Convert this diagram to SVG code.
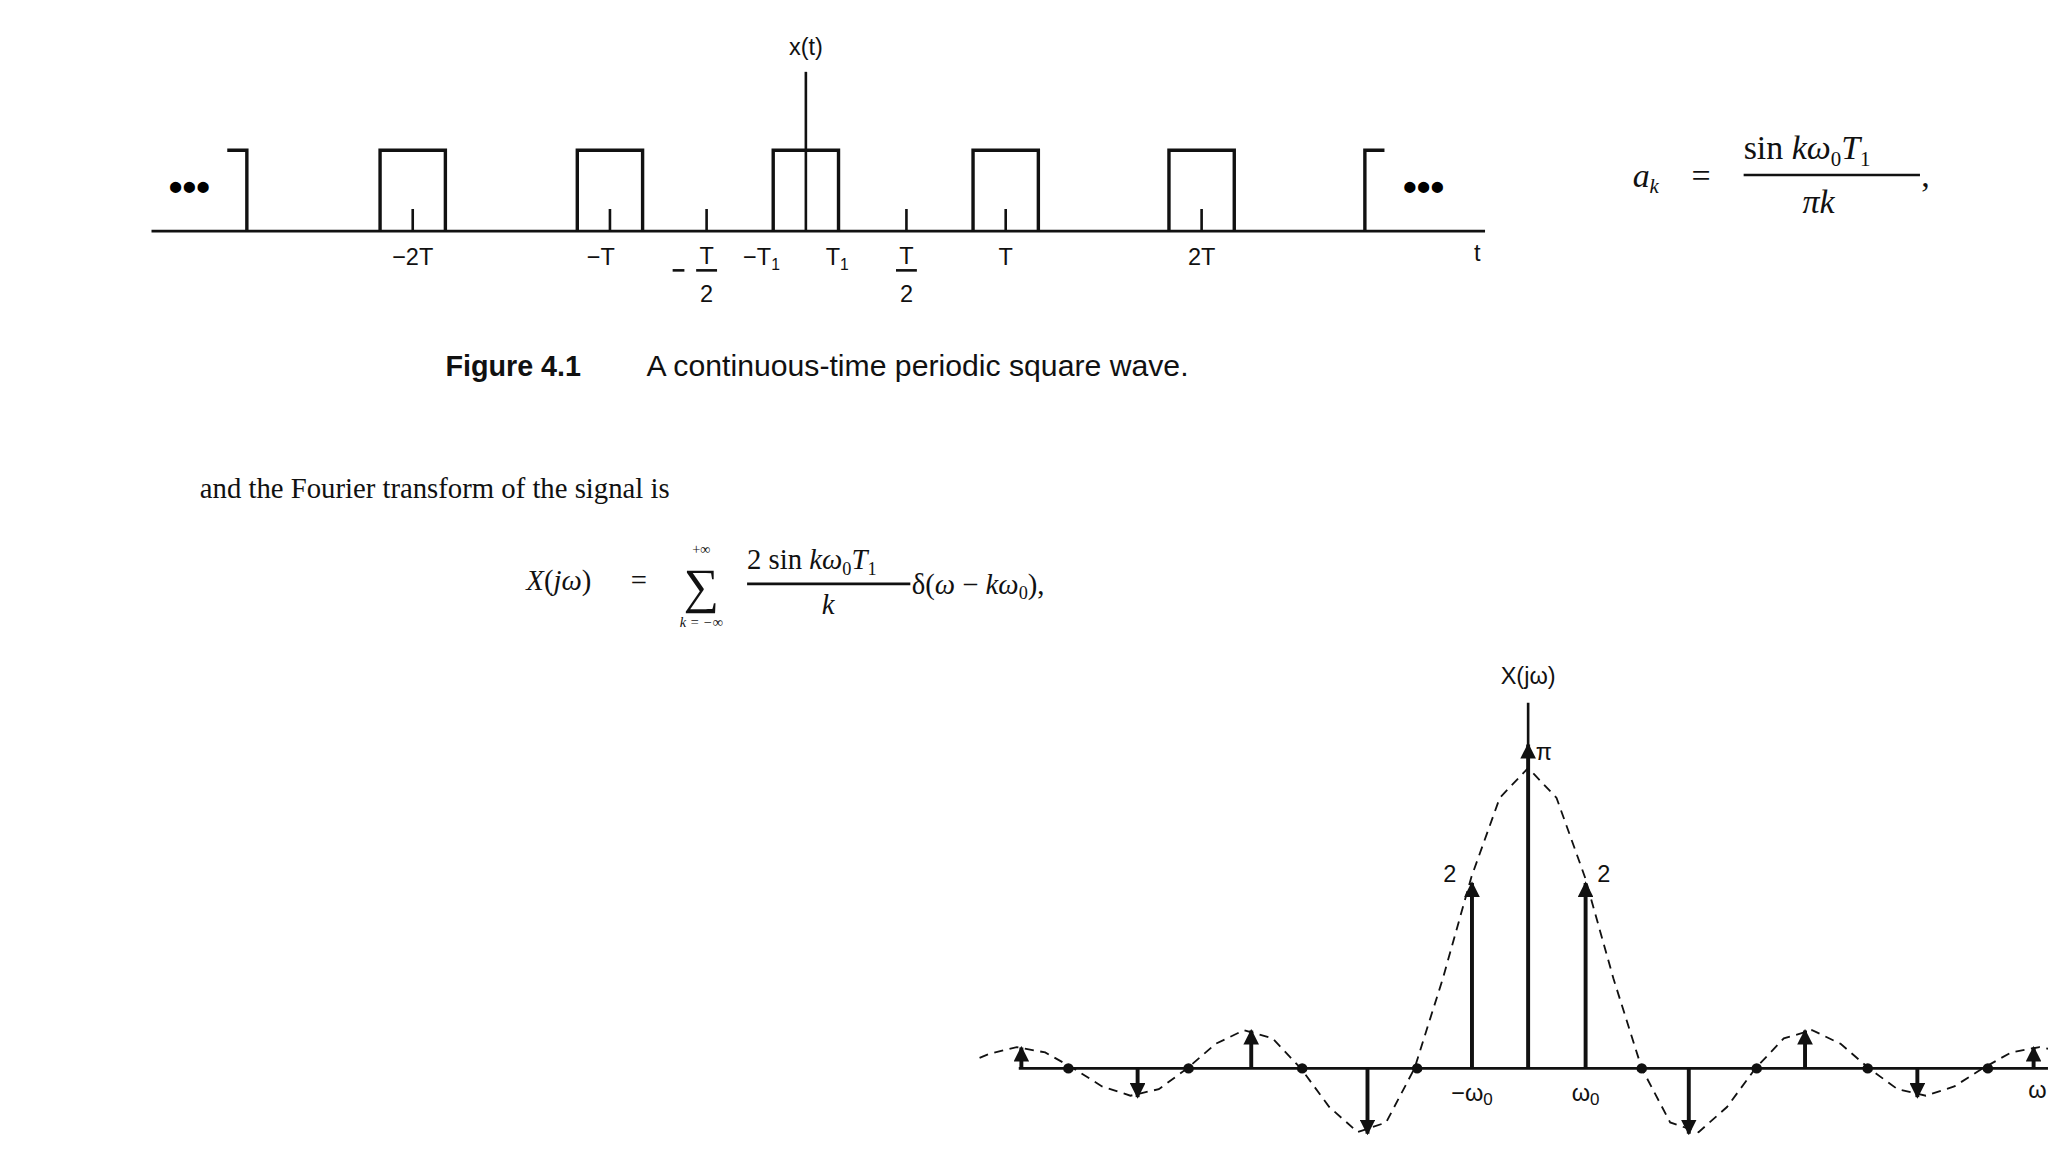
<svg xmlns="http://www.w3.org/2000/svg" width="2048" height="1152" viewBox="0 0 2048 1152">
<defs>
<style>
.ln{stroke:#111;fill:none;stroke-width:2}
.sw{stroke:#111;fill:none;stroke-width:2.6}
.lb{font-family:"Liberation Sans",Arial,sans-serif;font-size:18px;fill:#111;text-anchor:middle}
.sf{font-family:"Liberation Serif","Times New Roman",serif;fill:#111}
.it{font-style:italic}
.stem{stroke:#111;stroke-width:3;fill:none}
.env{stroke:#111;stroke-width:1.4;fill:none;stroke-dasharray:7 5}
</style>
<marker id="ah" viewBox="0 0 10 10" refX="9" refY="5" markerWidth="4" markerHeight="4" orient="auto"><path d="M0,0 L10,5 L0,10 z" fill="#111"/></marker>
</defs>
<rect width="2048" height="1152" fill="#fff"/>
<g transform="scale(1.3061)">
<g id="squarewave">
<line class="ln" x1="116" y1="177" x2="1137" y2="177"/>
<line class="ln" x1="617" y1="55" x2="617" y2="177"/>
<text class="lb" x="617" y="42">x(t)</text>
<path class="sw" d="M174,115 H189 V177"/>
<path class="sw" d="M291,177 V115 H341 V177"/>
<path class="sw" d="M442,177 V115 H492 V177"/>
<path class="sw" d="M592,177 V115 H642 V177"/>
<path class="sw" d="M745,177 V115 H795 V177"/>
<path class="sw" d="M895,177 V115 H945 V177"/>
<path class="sw" d="M1045,177 V115 H1060"/>
<g class="ln"><line x1="316" y1="160" x2="316" y2="177"/><line x1="467" y1="160" x2="467" y2="177"/><line x1="541" y1="160" x2="541" y2="177"/><line x1="694" y1="160" x2="694" y2="177"/><line x1="770" y1="160" x2="770" y2="177"/><line x1="920" y1="160" x2="920" y2="177"/></g>
<text x="145" y="153" style="font-family:'Liberation Sans',sans-serif;font-size:30px;font-weight:bold;text-anchor:middle">•••</text>
<text x="1090" y="153" style="font-family:'Liberation Sans',sans-serif;font-size:30px;font-weight:bold;text-anchor:middle">•••</text>
<text class="lb" x="316" y="203">−2T</text>
<text class="lb" x="460" y="203">−T</text>
<text class="lb" x="541" y="202">T</text><line class="ln" x1="533" y1="207" x2="549" y2="207"/><text class="lb" x="541" y="231">2</text>
<line class="ln" x1="515" y1="207" x2="524" y2="207"/>
<text class="lb" x="583" y="203">−T<tspan font-size="12" dy="4">1</tspan></text>
<text class="lb" x="641" y="203">T<tspan font-size="12" dy="4">1</tspan></text>
<text class="lb" x="694" y="202">T</text><line class="ln" x1="686" y1="207" x2="702" y2="207"/><text class="lb" x="694" y="231">2</text>
<text class="lb" x="770" y="203">T</text>
<text class="lb" x="920" y="203">2T</text>
<text class="lb" x="1131" y="200">t</text>
</g>
<g id="caption">
<text x="341" y="288" style="font-family:'Liberation Sans',sans-serif;font-size:22px;font-weight:bold" fill="#111">Figure 4.1</text>
<text x="495" y="288" textLength="415" lengthAdjust="spacingAndGlyphs" style="font-family:'Liberation Sans',sans-serif;font-size:22px" fill="#111">A continuous-time periodic square wave.</text>
</g>
<g id="ak">
<text class="sf it" x="1250" y="143" font-size="26">a<tspan font-size="16" dy="5">k</tspan></text>
<text class="sf" x="1295" y="143" font-size="26">=</text>
<text class="sf" x="1335" y="122" font-size="26">sin <tspan class="it">kω</tspan><tspan font-size="16" dy="5">0</tspan><tspan class="it" dy="-5">T</tspan><tspan font-size="16" dy="5">1</tspan></text>
<line class="ln" x1="1335" y1="134" x2="1470" y2="134" stroke-width="1.3"/>
<text class="sf it" x="1380" y="163" font-size="26">πk</text>
<text class="sf" x="1471" y="143" font-size="26">,</text>
</g>
<text class="sf" x="153" y="381" font-size="22">and the Fourier transform of the signal is</text>
<g id="Xeq">
<text class="sf it" x="403" y="452" font-size="22">X<tspan font-style="normal">(</tspan>jω<tspan font-style="normal">)</tspan></text>
<text class="sf" x="483" y="452" font-size="22">=</text>
<text class="sf" x="537" y="424" font-size="11" text-anchor="middle">+∞</text>
<text class="sf" x="537" y="462" font-size="38" text-anchor="middle">∑</text>
<text class="sf it" x="537" y="480" font-size="11" text-anchor="middle">k = −∞</text>
<text class="sf" x="572" y="436" font-size="22">2 sin <tspan class="it">kω</tspan><tspan font-size="14" dy="4">0</tspan><tspan class="it" dy="-4">T</tspan><tspan font-size="14" dy="4">1</tspan></text>
<line class="ln" x1="572" y1="447" x2="697" y2="447" stroke-width="1.2"/>
<text class="sf it" x="634" y="470" font-size="22" text-anchor="middle">k</text>
<text class="sf" x="698" y="455" font-size="22">δ(<tspan class="it">ω</tspan> − <tspan class="it">kω</tspan><tspan font-size="14" dy="4">0</tspan><tspan dy="-4">),</tspan></text>
</g>
<g id="spectrum">
<line class="ln" x1="780" y1="818" x2="1568" y2="818" stroke-width="2.4"/>
<line class="ln" x1="1170" y1="538" x2="1170" y2="818"/>
<text class="lb" x="1170" y="524">X(jω)</text>
<polyline class="env" points="750,810 756.75,807.1 778.5,801.7 800.25,805.8 822,818 843.75,831.8 865.5,838.9 887.25,833.9 909,818 930.75,799.2 952.5,788.7 974.25,795 996,818 1017.75,847.6 1039.5,866.8 1061.25,859.4 1083,818 1104.75,749 1126.5,671.6 1148.25,610.9 1170,588 1191.75,610.9 1213.5,671.6 1235.25,749 1257,818 1278.75,859.4 1300.5,866.8 1322.25,847.6 1344,818 1365.75,795 1387.5,788.7 1409.25,799.2 1431,818 1452.75,833.9 1474.5,838.9 1496.25,831.8 1518,818 1539.75,805.8 1561.5,801.7 1568,803"/>
<g class="stem" marker-end="url(#ah)">
<line x1="1170" y1="818" x2="1170" y2="570"/>
<line x1="1127" y1="818" x2="1127" y2="676"/>
<line x1="1214" y1="818" x2="1214" y2="676"/>
<line x1="1047" y1="818" x2="1047" y2="868"/>
<line x1="1293" y1="818" x2="1293" y2="868"/>
<line x1="958" y1="818" x2="958" y2="789"/>
<line x1="1382" y1="818" x2="1382" y2="789"/>
<line x1="871" y1="818" x2="871" y2="840"/>
<line x1="1468" y1="818" x2="1468" y2="840"/>
<line x1="782" y1="818" x2="782" y2="802"/>
<line x1="1557" y1="818" x2="1557" y2="802"/>
</g>
<g fill="#111"><circle cx="1085" cy="818" r="4"/><circle cx="1257" cy="818" r="4"/><circle cx="997" cy="818" r="4"/><circle cx="1345" cy="818" r="4"/><circle cx="910" cy="818" r="4"/><circle cx="1430" cy="818" r="4"/><circle cx="818" cy="818" r="4"/><circle cx="1522" cy="818" r="4"/></g>
<text class="lb" x="1182" y="582" font-size="14">π</text>
<text class="lb" x="1110" y="675">2</text>
<text class="lb" x="1228" y="675">2</text>
<text class="lb" x="1127" y="843">−ω<tspan font-size="13" dy="3">0</tspan></text>
<text class="lb" x="1214" y="843">ω<tspan font-size="13" dy="3">0</tspan></text>
<text class="lb" x="1560" y="841">ω</text>
</g>
</g>
</svg>
